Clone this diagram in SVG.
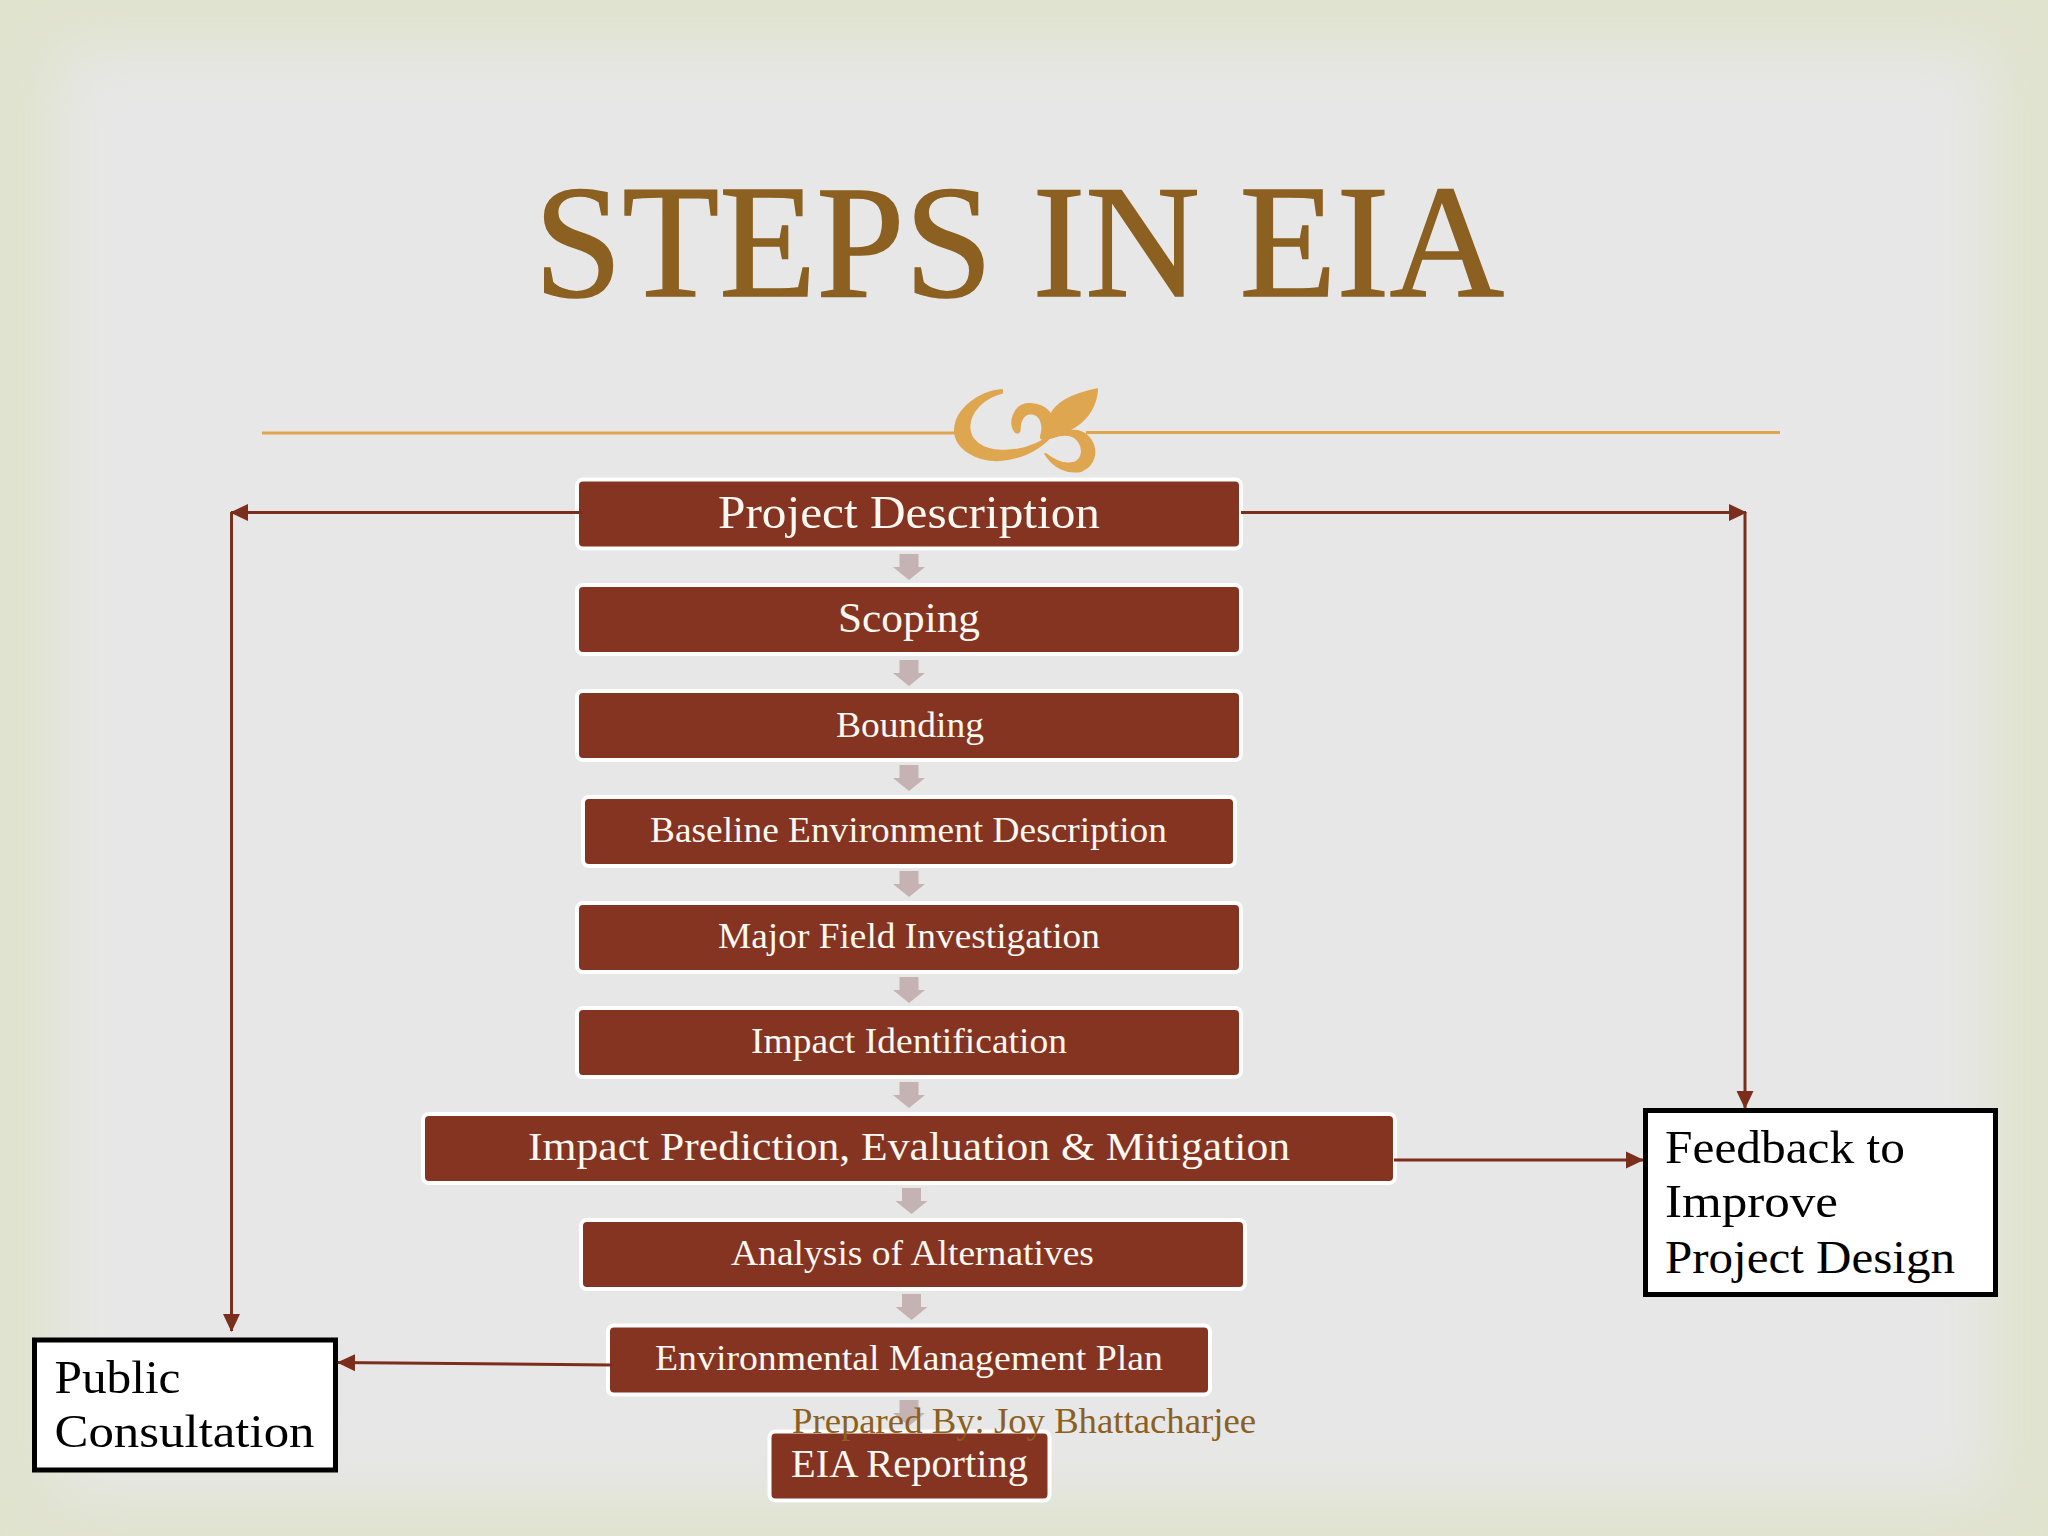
<svg xmlns="http://www.w3.org/2000/svg" width="2048" height="1536" viewBox="0 0 2048 1536">
<style>
text{font-family:"Liberation Serif","Times New Roman",serif}
.step rect{fill:#853421;stroke:#fff;stroke-width:4}
.step text{fill:#fbf8f2;text-anchor:start}
.note rect{fill:#fff;stroke:#000;stroke-width:5}
.note text{fill:#000;font-size:47px}
.link{fill:none;stroke:#7c2e1d;stroke-width:3}
.down{fill:#c5b2b2}
</style>
<defs>
<filter id="soft" x="-10%" y="-10%" width="120%" height="120%"><feGaussianBlur stdDeviation="30"/></filter>
<marker id="head" markerUnits="userSpaceOnUse" markerWidth="18" markerHeight="18" refX="17" refY="9" orient="auto"><path d="M0 0.5L18 9L0 17.5Z" fill="#7c2e1d"/></marker>
<path id="down" class="down" d="M-9.500 0H9.500V13H16L0 26L-16 13H-9.500Z"/>
</defs>
<g id="background">
<rect width="2048" height="1536" fill="#e0e3ce"/>
<rect x="58" y="50" width="1932" height="1445" fill="#e7e7e7" filter="url(#soft)"/>
</g>
<g id="title"><text x="534" y="296" font-size="160" fill="#8b6020" stroke="#8b6020" stroke-width="1.500" textLength="970" lengthAdjust="spacingAndGlyphs">STEPS IN EIA</text></g>
<g id="divider">
<path d="M262 433H958M1086 432.500H1780" fill="none" stroke="#dfa650" stroke-width="3"/>
<path transform="translate(938 380) scale(.355 .33333)" fill="#dfa650" stroke="#dfa650" stroke-width="6" stroke-linejoin="round" d="M180 30C120 35 50 85 48 150C48 205 110 245 175 240C240 234 290 205 325 160C285 195 240 214 180 212C120 210 88 180 88 140C88 95 130 50 180 38ZM218 155C200 130 212 75 255 72C280 70 305 82 318 105C335 65 385 42 448 28C445 72 425 112 385 140C375 147 368 150 358 153C390 148 415 155 430 180C450 215 440 255 405 272C365 282 325 262 303 222C325 240 350 254 375 250C405 246 412 215 400 190C388 165 360 158 322 172C305 178 290 182 290 170C300 140 292 102 262 100C240 100 228 125 230 150C230 158 222 160 218 155Z"/>
</g>
<g id="n1" class="step"><rect x="577" y="479.500" width="664" height="69" rx="6"/><text x="718" y="528" font-size="47" textLength="382" lengthAdjust="spacingAndGlyphs">Project Description</text></g>
<g id="n2" class="step"><rect x="577" y="585" width="664" height="69" rx="6"/><text x="838" y="632" font-size="42" textLength="142" lengthAdjust="spacingAndGlyphs">Scoping</text></g>
<g id="n3" class="step"><rect x="577" y="691" width="664" height="69" rx="6"/><text x="836" y="737" font-size="36" textLength="148" lengthAdjust="spacingAndGlyphs">Bounding</text></g>
<g id="n4" class="step"><rect x="583" y="797" width="652" height="69" rx="6"/><text x="650" y="842" font-size="36" textLength="517" lengthAdjust="spacingAndGlyphs">Baseline Environment Description</text></g>
<g id="n5" class="step"><rect x="577" y="903" width="664" height="69" rx="6"/><text x="718" y="948" font-size="36" textLength="382" lengthAdjust="spacingAndGlyphs">Major Field Investigation</text></g>
<g id="n6" class="step"><rect x="577" y="1008" width="664" height="69" rx="6"/><text x="751" y="1053" font-size="36" textLength="316" lengthAdjust="spacingAndGlyphs">Impact Identification</text></g>
<g id="n7" class="step"><rect x="423" y="1114" width="972" height="69" rx="6"/><text x="528" y="1160" font-size="41" textLength="762" lengthAdjust="spacingAndGlyphs">Impact Prediction, Evaluation &amp; Mitigation</text></g>
<g id="n8" class="step"><rect x="581" y="1220" width="664" height="69" rx="6"/><text x="731" y="1265" font-size="36" textLength="363" lengthAdjust="spacingAndGlyphs">Analysis of Alternatives</text></g>
<g id="n9" class="step"><rect x="608" y="1325.500" width="602" height="69" rx="6"/><text x="655" y="1370" font-size="36" textLength="508" lengthAdjust="spacingAndGlyphs">Environmental Management Plan</text></g>
<g id="n10" class="step"><rect x="769.500" y="1431.500" width="280" height="69" rx="6"/><text x="791" y="1477" font-size="41" textLength="237" lengthAdjust="spacingAndGlyphs">EIA Reporting</text></g>
<g id="public" class="note"><rect x="34.500" y="1340" width="301" height="130"/><text x="54.500" y="1393" textLength="126" lengthAdjust="spacingAndGlyphs">Public</text><text x="54.500" y="1447" textLength="260" lengthAdjust="spacingAndGlyphs">Consultation</text></g>
<g id="feedback" class="note"><rect x="1645.500" y="1110.500" width="350" height="184"/><text x="1665" y="1163" textLength="240" lengthAdjust="spacingAndGlyphs">Feedback to</text><text x="1665" y="1217" textLength="173" lengthAdjust="spacingAndGlyphs">Improve</text><text x="1665" y="1273" textLength="290" lengthAdjust="spacingAndGlyphs">Project Design</text></g>
<g id="connectors">
<path class="link" marker-end="url(#head)" d="M583 512.500H231"/>
<path class="link" marker-end="url(#head)" d="M231.500 512V1331"/>
<path class="link" marker-end="url(#head)" d="M1241 512.500H1746"/>
<path class="link" marker-end="url(#head)" d="M1745 512V1108"/>
<path class="link" marker-end="url(#head)" d="M1394 1160H1643"/>
<path class="link" marker-end="url(#head)" d="M612 1365L338 1362.500"/>
<use href="#down" x="909" y="554"/>
<use href="#down" x="909" y="660"/>
<use href="#down" x="909" y="765"/>
<use href="#down" x="909" y="871"/>
<use href="#down" x="909" y="977"/>
<use href="#down" x="909" y="1082"/>
<use href="#down" x="911.500" y="1188"/>
<use href="#down" x="911.500" y="1294"/>
<use href="#down" x="909" y="1400"/>
</g>
<g id="credit"><text x="792" y="1433" font-size="36" fill="#8b6020" textLength="464" lengthAdjust="spacingAndGlyphs">Prepared By: Joy Bhattacharjee</text></g>
</svg>
